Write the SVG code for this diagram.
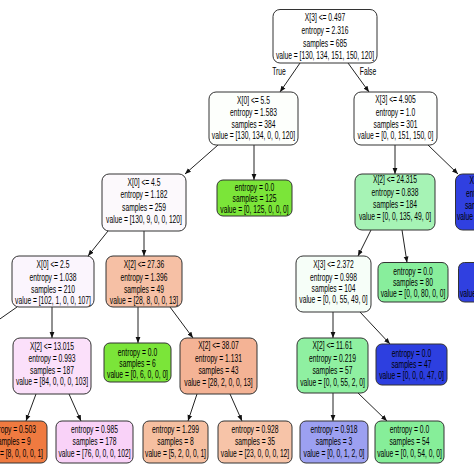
<svg xmlns="http://www.w3.org/2000/svg" width="474" height="474" viewBox="0 0 474 474">
<style>
.box{stroke:#333;stroke-width:1}
text{font-family:"Liberation Sans",Arial,sans-serif;font-size:10px;text-anchor:middle;fill:#000}
text.s{text-anchor:start}
.edge{stroke:#222;stroke-width:1;fill:none;marker-end:url(#ah)}
</style>
<defs>
<marker id="ah" viewBox="0 0 10 10" refX="10" refY="5" markerWidth="6" markerHeight="6" markerUnits="userSpaceOnUse" orient="auto">
<path d="M0,1 L10,5 L0,9 z" fill="#111"/>
</marker>
</defs>
<rect width="474" height="474" fill="#fff"/>
<g id="edges">
<line class="edge" x1="300" y1="63" x2="280" y2="92"/>
<line class="edge" x1="348" y1="63" x2="369" y2="92"/>
<line class="edge" x1="218" y1="145" x2="185" y2="174"/>
<line class="edge" x1="254" y1="145" x2="254" y2="180"/>
<line class="edge" x1="395" y1="145" x2="395" y2="174"/>
<line class="edge" x1="428" y1="145" x2="458" y2="174"/>
<line class="edge" x1="108" y1="231" x2="88" y2="256"/>
<line class="edge" x1="144" y1="231" x2="144" y2="256"/>
<line class="edge" x1="371" y1="230" x2="358" y2="256"/>
<line class="edge" x1="402" y1="230" x2="407" y2="262.5"/>
<line class="edge" x1="17" y1="307" x2="-13" y2="328"/>
<line class="edge" x1="52" y1="307" x2="52" y2="338"/>
<line class="edge" x1="138" y1="307" x2="138" y2="343"/>
<line class="edge" x1="170" y1="307" x2="193" y2="338"/>
<line class="edge" x1="333" y1="312" x2="333" y2="338"/>
<line class="edge" x1="360" y1="312" x2="390" y2="344"/>
<line class="edge" x1="36" y1="394" x2="26" y2="421"/>
<line class="edge" x1="69" y1="394" x2="81" y2="421"/>
<line class="edge" x1="197" y1="394" x2="188" y2="421"/>
<line class="edge" x1="230" y1="394" x2="242" y2="421"/>
<line class="edge" x1="333" y1="393" x2="333" y2="421"/>
<line class="edge" x1="358" y1="393" x2="387" y2="421"/>
</g>
<g id="edge-labels">
<text transform="matrix(0.672 0 0 1 279 75)">True</text>
<text transform="matrix(0.672 0 0 1 368 75)">False</text>
</g>
<g id="n0">
<rect class="box" x="273" y="9.5" width="104" height="53.5" rx="7" fill="#ffffff"/>
<g transform="translate(325 0) scale(0.672 1)">
<text y="21">X[3] &lt;= 0.497</text><text y="34">entropy = 2.316</text><text y="47">samples = 685</text><text y="59">value = [130, 134, 151, 150, 120]</text>
</g>
</g>
<g id="n1">
<rect class="box" x="209" y="92" width="89" height="53" rx="7" fill="#fdfffc"/>
<g transform="translate(253.5 0) scale(0.672 1)">
<text y="104.5">X[0] &lt;= 5.5</text><text y="116">entropy = 1.583</text><text y="128">samples = 384</text><text y="139.5">value = [130, 134, 0, 0, 120]</text>
</g>
</g>
<g id="n2">
<rect class="box" x="354" y="92" width="83" height="53" rx="7" fill="#fefffe"/>
<g transform="translate(395.5 0) scale(0.672 1)">
<text y="103.5">X[3] &lt;= 4.905</text><text y="116">entropy = 1.0</text><text y="128">samples = 301</text><text y="139">value = [0, 0, 151, 150, 0]</text>
</g>
</g>
<g id="n3">
<rect class="box" x="102" y="174" width="84" height="57" rx="7" fill="#fcf9fc"/>
<g transform="translate(144 0) scale(0.672 1)">
<text y="186.5">X[0] &lt;= 4.5</text><text y="198.5">entropy = 1.182</text><text y="211">samples = 259</text><text y="223">value = [130, 9, 0, 0, 120]</text>
</g>
</g>
<g id="n4">
<rect class="box" x="217" y="180" width="75" height="36" rx="6" fill="#7be539"/>
<g transform="translate(254.5 0) scale(0.672 1)">
<text y="191">entropy = 0.0</text><text y="202">samples = 125</text><text y="213">value = [0, 125, 0, 0, 0]</text>
</g>
</g>
<g id="n5">
<rect class="box" x="355" y="174" width="80" height="56" rx="7" fill="#a6f3b5"/>
<g transform="translate(395 0) scale(0.672 1)">
<text y="183.5">X[2] &lt;= 24.315</text><text y="196.5">entropy = 0.838</text><text y="208.5">samples = 184</text><text y="220">value = [0, 0, 135, 49, 0]</text>
</g>
</g>
<g id="n6">
<rect class="box" x="455.5" y="174" width="80" height="56" rx="7" fill="#3040e0"/>
<text class="s" transform="matrix(0.672 0 0 1 469.5 183.5)">X[</text>
<text class="s" transform="matrix(0.672 0 0 1 466 196.5)">entropy = 0.576</text>
<text class="s" transform="matrix(0.672 0 0 1 465 208.5)">samples = 117</text>
<text class="s" transform="matrix(0.672 0 0 1 457 220)">value = [0, 0, 16, 101, 0]</text>
</g>
<g id="n7">
<rect class="box" x="12" y="256" width="82" height="51" rx="7" fill="#fbf5fd"/>
<g transform="translate(53 0) scale(0.672 1)">
<text y="268.5">X[0] &lt;= 2.5</text><text y="281">entropy = 1.038</text><text y="293">samples = 210</text><text y="304">value = [102, 1, 0, 0, 107]</text>
</g>
</g>
<g id="n8">
<rect class="box" x="106" y="256" width="76" height="51" rx="7" fill="#f6c0a5"/>
<g transform="translate(144 0) scale(0.672 1)">
<text y="268.5">X[2] &lt;= 27.36</text><text y="281">entropy = 1.396</text><text y="293">samples = 49</text><text y="304">value = [28, 8, 0, 0, 13]</text>
</g>
</g>
<g id="n9">
<rect class="box" x="296" y="256" width="75" height="56" rx="7" fill="#f6fef8"/>
<g transform="translate(333.5 0) scale(0.672 1)">
<text y="268.5">X[3] &lt;= 2.372</text><text y="281">entropy = 0.998</text><text y="292">samples = 104</text><text y="303.5">value = [0, 0, 55, 49, 0]</text>
</g>
</g>
<g id="n10">
<rect class="box" x="378" y="262.5" width="70" height="39.5" rx="6" fill="#88ee9c"/>
<g transform="translate(413 0) scale(0.672 1)">
<text y="275">entropy = 0.0</text><text y="286.5">samples = 80</text><text y="297.5">value = [0, 0, 80, 0, 0]</text>
</g>
</g>
<g id="n11">
<rect class="box" x="458.5" y="262.5" width="75" height="39.5" rx="6" fill="#3040e0"/>
<text class="s" transform="matrix(0.672 0 0 1 460 297)">value = [</text>
</g>
<g id="n12">
<rect class="box" x="13" y="338" width="78" height="56" rx="7" fill="#fbe0fa"/>
<g transform="translate(52 0) scale(0.672 1)">
<text y="350">X[2] &lt;= 13.015</text><text y="362.5">entropy = 0.993</text><text y="374">samples = 187</text><text y="385.5">value = [84, 0, 0, 0, 103]</text>
</g>
</g>
<g id="n13">
<rect class="box" x="104" y="343" width="67" height="39" rx="6" fill="#7be539"/>
<g transform="translate(137.5 0) scale(0.672 1)">
<text y="356.5">entropy = 0.0</text><text y="367.5">samples = 6</text><text y="378.5">value = [0, 6, 0, 0, 0]</text>
</g>
</g>
<g id="n14">
<rect class="box" x="180" y="338" width="77" height="56" rx="7" fill="#f4b395"/>
<g transform="translate(218.5 0) scale(0.672 1)">
<text y="349.5">X[2] &lt;= 38.07</text><text y="362.5">entropy = 1.131</text><text y="374">samples = 43</text><text y="386">value = [28, 2, 0, 0, 13]</text>
</g>
</g>
<g id="n15">
<rect class="box" x="297" y="338" width="71" height="55" rx="7" fill="#8ff0a1"/>
<g transform="translate(332.5 0) scale(0.672 1)">
<text y="349.5">X[2] &lt;= 11.61</text><text y="362.5">entropy = 0.219</text><text y="374">samples = 57</text><text y="386">value = [0, 0, 55, 2, 0]</text>
</g>
</g>
<g id="n16">
<rect class="box" x="376" y="344" width="71" height="41" rx="6" fill="#2d3fe0"/>
<g transform="translate(411.5 0) scale(0.672 1)">
<text y="357">entropy = 0.0</text><text y="368">samples = 47</text><text y="379">value = [0, 0, 0, 47, 0]</text>
</g>
</g>
<g id="n17">
<rect class="box" x="-22" y="421" width="69" height="42" rx="6" fill="#ef7a40"/>
<g transform="translate(12.5 0) scale(0.672 1)">
<text y="433.5">entropy = 0.503</text><text y="445.5">samples = 9</text><text y="457">value = [8, 0, 0, 0, 1]</text>
</g>
</g>
<g id="n18">
<rect class="box" x="56" y="421" width="77" height="42" rx="6" fill="#f9d2f8"/>
<g transform="translate(94.5 0) scale(0.672 1)">
<text y="433.5">entropy = 0.985</text><text y="445.5">samples = 178</text><text y="457">value = [76, 0, 0, 0, 102]</text>
</g>
</g>
<g id="n19">
<rect class="box" x="143" y="421" width="65" height="42" rx="6" fill="#f6bfa0"/>
<g transform="translate(175.5 0) scale(0.672 1)">
<text y="433.5">entropy = 1.299</text><text y="445.5">samples = 8</text><text y="457">value = [5, 2, 0, 0, 1]</text>
</g>
</g>
<g id="n20">
<rect class="box" x="218" y="421" width="74" height="42" rx="6" fill="#f7c4a8"/>
<g transform="translate(255 0) scale(0.672 1)">
<text y="433.5">entropy = 0.928</text><text y="445.5">samples = 35</text><text y="457">value = [23, 0, 0, 0, 12]</text>
</g>
</g>
<g id="n21">
<rect class="box" x="300" y="421" width="68" height="42" rx="6" fill="#9ca0f1"/>
<g transform="translate(334 0) scale(0.672 1)">
<text y="433.5">entropy = 0.918</text><text y="445.5">samples = 3</text><text y="457">value = [0, 0, 1, 2, 0]</text>
</g>
</g>
<g id="n22">
<rect class="box" x="375" y="421" width="69" height="42" rx="6" fill="#86ee99"/>
<g transform="translate(409.5 0) scale(0.672 1)">
<text y="433.5">entropy = 0.0</text><text y="445.5">samples = 54</text><text y="457">value = [0, 0, 54, 0, 0]</text>
</g>
</g>
</svg>
